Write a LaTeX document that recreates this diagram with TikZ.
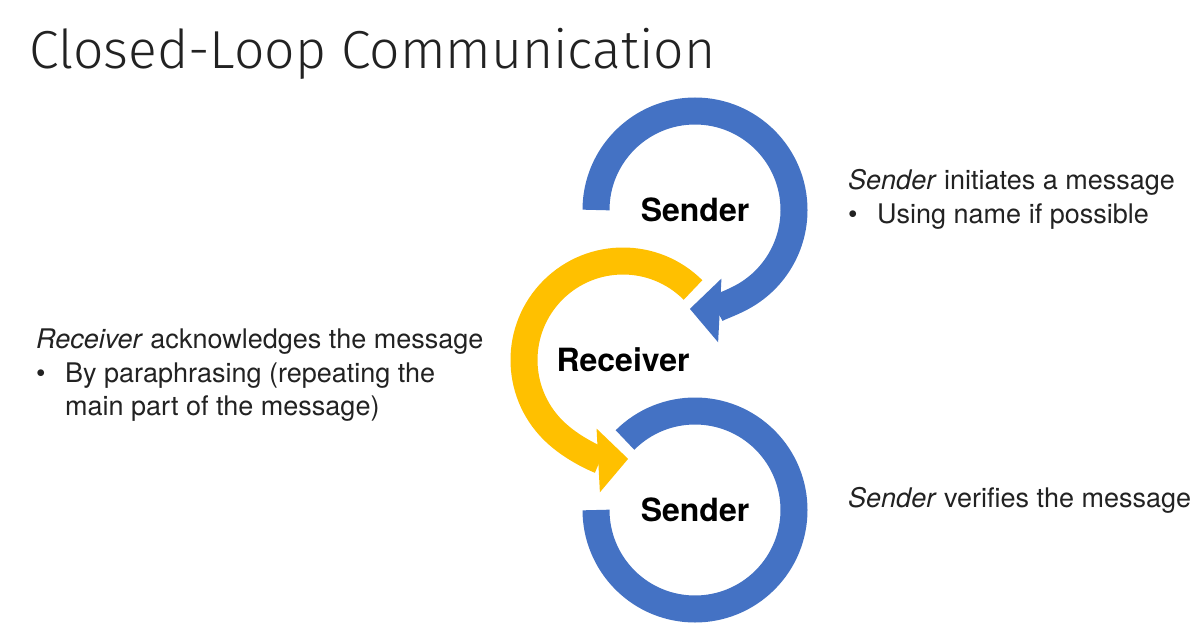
\documentclass[tikz,border=0pt]{standalone}
\usepackage{fontspec}
\setmainfont{TeX Gyre Heros}
\newfontfamily\titlefont{Fira Sans Light}
\usepackage{tikz}
\usetikzlibrary{arrows.meta}
\definecolor{loopblue}{HTML}{4472C4}
\definecolor{loopgold}{HTML}{FFC000}
\definecolor{inkgray}{HTML}{222222}

\begin{document}
\begin{tikzpicture}[x=1pt, y=1pt,
  loopring/.style={line width=27pt},
  looptip/.style={-{Triangle[length=30pt, width=62pt]}},
  rolename/.style={text=black, font=\fontsize{32}{32}\selectfont\bfseries},
  noteline/.style={inkgray, font=\fontsize{27}{27}\selectfont, anchor=base west, inner sep=0pt}]
  % Page area
  \useasboundingbox (0,0) rectangle (1200,-632);
  \fill[white] (0,0) rectangle (1200,-632);

  % Title
  \node[inkgray, font=\titlefont\fontsize{53.5}{53.5}\selectfont, anchor=base west, inner sep=0pt] (title) at (29,-68) {Closed-Loop Communication};

  % Role names at the ring centres
  \node[rolename] (sendA) at (695,-210) {Sender};
  \node[rolename] (recv) at (623,-360) {Receiver};
  \node[rolename] (sendB) at (695,-510) {Sender};

  % Top ring - sender initiates
  \draw[loopblue, loopring, looptip] ([shift={(180:99)}]sendA.center) arc[start angle=180, end angle=-93, radius=99];

  % Middle ring - receiver acknowledges
  \draw[loopgold, loopring, looptip] ([shift={(45:99)}]recv.center) arc[start angle=45, end angle=273, radius=99];

  % Bottom ring - sender verifies (open, no tip)
  \draw[loopblue, loopring] ([shift={(135:99)}]sendB.center) arc[start angle=135, end angle=-180, radius=99];

  % Notes right of the top ring
  \node[noteline] (noteA) at (848,-189) {\textit{Sender} initiates a message};
  \node[noteline] (noteAi) at (848,-223) {\makebox[29pt][l]{\textbullet}Using name if possible};

  % Notes left of the middle ring
  \node[noteline] (noteB) at (36,-348) {\textit{Receiver} acknowledges the message};
  \node[noteline] (noteBi) at (36,-382) {\makebox[29pt][l]{\textbullet}By paraphrasing (repeating the};
  \node[noteline] (noteBii) at (65,-415) {main part of the message)};

  % Note right of the bottom ring
  \node[noteline] (noteC) at (848,-507) {\textit{Sender} verifies the message};
\end{tikzpicture}
\end{document}
